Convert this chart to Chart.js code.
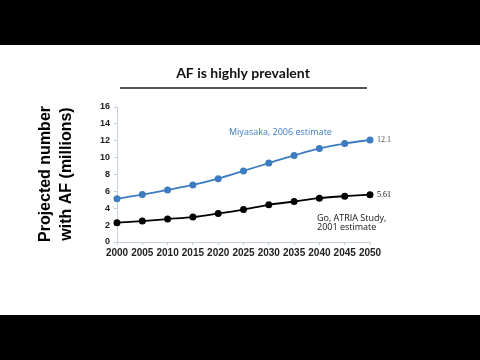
<!DOCTYPE html>
<html>
<head>
<meta charset="utf-8">
<script src="https://cdn.jsdelivr.net/npm/chart.js@4"></script>
<style>
  html, body { margin: 0; padding: 0; background: #fff; }
  #wrap { width: 480px; height: 360px; position: relative; }
</style>
</head>
<body>
<div id="wrap"><canvas id="af" width="480" height="360"></canvas></div>
<script>
// datos
const years = ['2000','2005','2010','2015','2020','2025','2030','2035','2040','2045','2050']
const miyasaka = [5.12, 5.62, 6.17, 6.76, 7.51, 8.42, 9.36, 10.26, 11.09, 11.67, 12.1]
const atria = [2.29, 2.48, 2.72, 2.95, 3.38, 3.85, 4.41, 4.8, 5.19, 5.43, 5.61]
const yTicks = [0, 2, 4, 6, 8, 10, 12, 14, 16]

const blue = '#3d7cc0'
const axisColor = '#c5cfdc'

// bandas negras, titulo y anotaciones
const decor = {
  id: 'decor',
  beforeDraw(chart) {
    const c = chart.ctx
    c.save()
    c.fillStyle = '#000'
    c.fillRect(0, 0, 480, 45)
    c.fillRect(0, 315, 480, 45)
    c.restore()
  },
  afterDraw(chart) {
    const c = chart.ctx
    const x = chart.scales.x, y = chart.scales.y
    c.save()
    c.fillStyle = '#111'
    c.font = 'bold 14px Lato, "Liberation Sans", sans-serif'
    c.textAlign = 'center'
    c.textBaseline = 'middle'
    c.fillText('AF is highly prevalent', 243, 73)
    c.strokeStyle = '#555'
    c.lineWidth = 2
    c.beginPath()
    c.moveTo(120, 88)
    c.lineTo(367, 88)
    c.stroke()

    // titulo eje y
    c.translate(56, 174)
    c.rotate(-Math.PI / 2)
    c.font = 'bold 16px "Liberation Sans", Arial, sans-serif'
    c.fillStyle = '#000'
    c.fillText('Projected number', 0, -10)
    c.fillText('with AF (millions)', 0, 11)
    c.setTransform(1, 0, 0, 1, 0, 0)

    c.textAlign = 'left'
    c.font = '9px "Open Sans", "Liberation Sans", sans-serif'
    c.fillStyle = blue
    c.fillText('Miyasaka, 2006 estimate', 229, 132)
    c.fillStyle = '#111'
    c.fillText('Go, ATRIA Study,', 317, 218)
    c.fillText('2001 estimate', 317, 227)

    const last = years.length - 1
    c.font = '8px "Liberation Serif", serif'
    c.fillStyle = '#555'
    c.fillText(String(miyasaka[last]), x.getPixelForValue(last) + 7, y.getPixelForValue(miyasaka[last]))
    c.fillStyle = '#111'
    c.fillText(String(atria[last]), x.getPixelForValue(last) + 7, y.getPixelForValue(atria[last]))
    c.restore()
  }
}

new Chart(document.getElementById('af'), {
  type: 'line',
  data: {
    labels: years,
    datasets: [
      {
        data: miyasaka,
        borderColor: blue,
        backgroundColor: blue,
        borderWidth: 1.8,
        pointRadius: 2.6,
        tension: 0.3
      },
      {
        data: atria,
        borderColor: '#000',
        backgroundColor: '#000',
        borderWidth: 1.8,
        pointRadius: 2.6,
        tension: 0.3
      }
    ]
  },
  options: {
    responsive: false,
    animation: false,
    layout: { padding: { top: 107, right: 110, bottom: 0, left: 0 } },
    plugins: { legend: { display: false }, tooltip: { enabled: false } },
    scales: {
      x: {
        offset: false,
        grid: { display: true, drawOnChartArea: false, tickLength: 3, color: axisColor },
        border: { color: axisColor },
        ticks: { color: '#222', font: { family: '"Liberation Sans", Arial', size: 10, weight: 'bold' }, maxRotation: 0, padding: 2 },
        afterFit(scale) { scale.height = 118 }
      },
      y: {
        min: 0,
        max: 16,
        grid: { display: true, drawOnChartArea: false, tickLength: 3, color: axisColor },
        border: { color: axisColor },
        afterBuildTicks(scale) { scale.ticks = yTicks.map(v => ({ value: v })) },
        ticks: { color: '#222', font: { family: '"Liberation Sans", Arial', size: 9, weight: 'bold' }, padding: 4 },
        afterFit(scale) { scale.width = 117 }
      }
    }
  },
  plugins: [decor]
})
</script>
</body>
</html>
